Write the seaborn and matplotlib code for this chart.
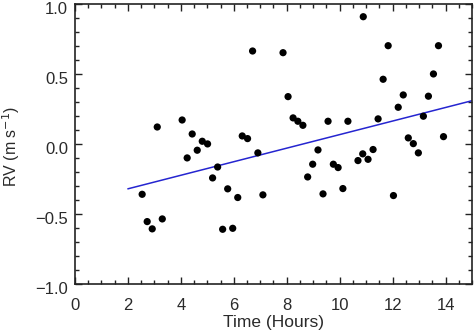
import numpy as np
import pandas as pd
import matplotlib
matplotlib.use("Agg")
import matplotlib.pyplot as plt
from matplotlib.ticker import MultipleLocator, FuncFormatter
from matplotlib.transforms import ScaledTranslation
import seaborn as sns

# Observation times (hours) and radial velocities (m/s)
time_hours = [2.54, 2.73, 2.92, 3.11, 3.30, 4.05, 4.24, 4.43, 4.62, 4.81,
              5.01, 5.20, 5.39, 5.58, 5.77, 5.96, 6.15, 6.32, 6.52, 6.71,
              6.91, 7.10, 7.86, 8.05, 8.24, 8.42, 8.61, 8.79, 8.98, 9.18,
              9.37, 9.56, 9.76, 9.94, 10.12, 10.31, 10.69, 10.87, 10.89, 11.07,
              11.26, 11.45, 11.64, 11.83, 12.03, 12.21, 12.40, 12.59, 12.78, 12.97,
              13.16, 13.35, 13.54, 13.73, 13.92]
rv = [-0.36, -0.555, -0.607, 0.121, -0.536, 0.171, -0.10, 0.071, -0.045, 0.019,
      0.0, -0.243, -0.165, -0.61, -0.321, -0.603, -0.383, 0.057, 0.038, 0.664,
      -0.064, -0.364, 0.652, 0.338, 0.186, 0.162, 0.133, -0.236, -0.145, -0.043,
      -0.357, 0.162, -0.145, -0.169, -0.319, 0.162, -0.119, -0.071, 0.909, -0.11,
      -0.04, 0.179, 0.462, 0.702, -0.369, 0.262, 0.35, 0.043, 0.002, -0.064,
      0.198, 0.341, 0.5, 0.702, 0.052]

# Linear trend endpoints
trend_time = [2.0, 15.0]
trend_rv = [-0.321, 0.309]

sns.set_style("ticks")
plt.rcParams["font.family"] = ["Liberation Sans", "DejaVu Sans"]

fig = plt.figure(figsize=(4.74, 3.32), dpi=100)
ax = fig.add_axes([0.158, 0.145, 0.838, 0.843])

pts = pd.DataFrame({"t": time_hours, "rv": rv})
trend = pd.DataFrame({"t": trend_time, "rv": trend_rv})

sns.scatterplot(data=pts, x="t", y="rv", ax=ax, color="black", s=27,
                edgecolor="none", zorder=3)
sns.lineplot(data=trend, x="t", y="rv", ax=ax, color="#2525d0", lw=1.1,
             zorder=2)

ax.set_xlim(0, 15)
ax.set_ylim(-1.0, 1.0)
ax.xaxis.set_major_locator(MultipleLocator(2))
ax.xaxis.set_minor_locator(MultipleLocator(0.5))
ax.yaxis.set_major_locator(MultipleLocator(0.5))
ax.yaxis.set_minor_locator(MultipleLocator(0.1))
ax.yaxis.set_major_formatter(FuncFormatter(
    lambda v, p: f"{v:.1f}".replace("-", "\u2212")))

for side in ["top", "right", "left", "bottom"]:
    ax.spines[side].set_visible(True)
    ax.spines[side].set_linewidth(1.2)
    ax.spines[side].set_color("#222222")

text_color = "#2a2a2a"
ax.tick_params(which="both", direction="in", top=True, right=True,
               color="#222222", width=1.0, labelsize=12, labelcolor=text_color)
ax.tick_params(which="major", length=5)
ax.tick_params(which="minor", length=2.6)
ax.tick_params(axis="x", which="major", pad=10.5)
ax.tick_params(axis="y", which="major", pad=5)

for lab in ax.get_yticklabels():
    lab.set_transform(lab.get_transform() +
                      ScaledTranslation(0, -0.04, fig.dpi_scale_trans))

ax.set_xlabel("Time (Hours)", fontsize=12.5, color=text_color, labelpad=1)
ax.set_ylabel("RV (m s$^{-1}$)", fontsize=11.5, color=text_color)
ax.yaxis.set_label_coords(-0.134, 0.49)

fig.savefig("out.png", dpi=100)
